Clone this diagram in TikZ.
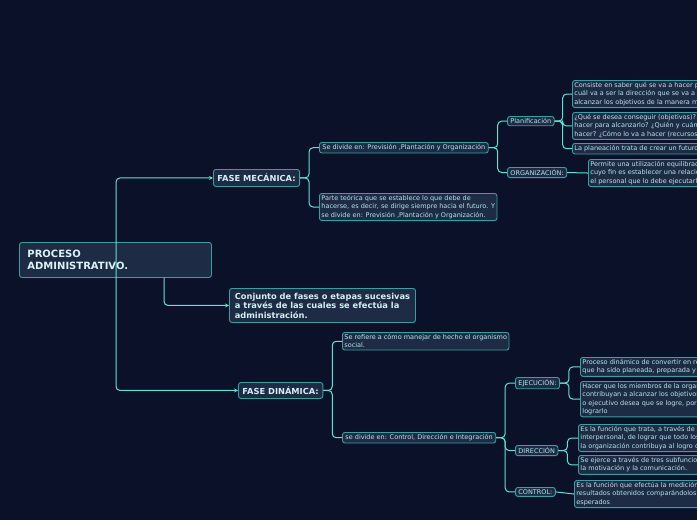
\documentclass[tikz,border=0pt]{standalone}
\usepackage{fontspec}
\setmainfont{DejaVu Sans}
\usetikzlibrary{arrows.meta}
\definecolor{bg}{HTML}{0B1128}
\definecolor{nfill}{HTML}{1E2B44}
\definecolor{nline}{HTML}{3A9FA0}
\definecolor{cline}{HTML}{5FE3D2}
\definecolor{ntext}{HTML}{B5E6EE}
\tikzset{
 box/.style={draw=nline,line width=0.9pt,fill=nfill,rounded corners=2.5pt,text=ntext,anchor=north west,inner sep=2pt,align=left},
 leaf/.style={box,font=\fontsize{6.5}{8.3}\selectfont},
 lab/.style={box,font=\fontsize{6.5}{8}\selectfont,inner xsep=3pt},
 mid/.style={box,font=\bfseries\fontsize{8.3}{9.5}\selectfont,text=ntext!60!white,inner xsep=4pt},
 conn/.style={draw=cline,line width=1pt,rounded corners=4pt},
 arr/.style={conn,-{Stealth[length=4pt,width=4pt]}}
}
\begin{document}
\begin{tikzpicture}[x=1pt,y=-1pt]
\fill[bg] (0,0) rectangle (697,520);
\useasboundingbox (0,0) rectangle (697,520);
\clip (0,0) rectangle (697,520);
\node[box,font=\bfseries\fontsize{10}{11.5}\selectfont,text=ntext!50!white,text width=176pt,minimum height=35pt,inner xsep=8pt] (root) at (19,242) {PROCESO\\ADMINISTRATIVO.};
\node[mid,minimum height=17pt] (mec) at (213,169) {FASE MECÁNICA:};
\node[mid,minimum width=186pt,minimum height=34pt] (conj) at (229,288) {Conjunto de fases o etapas sucesivas\\a través de las cuales se efectúa la\\administración.};
\node[mid,minimum height=16pt] (din) at (238,382) {FASE DINÁMICA:};
\node[lab] (div1) at (319,142) {Se divide en: Previsión ,Plantación y Organización};
\node[leaf] (parte) at (319,193) {Parte teórica que se establece lo que debe de\\hacerse, es decir, se dirige siempre hacia el futuro. Y\\se divide en: Previsión ,Plantación y Organización.};
\node[lab] (plan) at (507,116) {Planificación};
\node[lab] (org) at (507,167) {ORGANIZACIÓN:};
\node[leaf] (p1) at (572,80) {Consiste en saber qué se va a hacer por adelantado,\\cuál va a ser la dirección que se va a tomar para\\alcanzar los objetivos de la manera más eficiente};
\node[leaf] (p2) at (572,112) {¿Qué se desea conseguir (objetivos)? ¿Qué se va a\\hacer para alcanzarlo? ¿Quién y cuándo lo va a\\hacer? ¿Cómo lo va a hacer (recursos)?};
\node[leaf] (p3) at (572,143) {La planeación trata de crear un futuro deseado};
\node[leaf] (o1) at (588,159) {Permite una utilización equilibrada de los recursos\\cuyo fin es establecer una relación entre el trabajo y\\el personal que lo debe ejecutarlo};
\node[leaf] (ref) at (342,332) {Se refiere a cómo manejar de hecho el organismo\\social.};
\node[lab] (div2) at (342,432) {se divide en: Control, Dirección e Integración};
\node[lab] (eje) at (515,377) {EJECUCIÓN:};
\node[lab] (dir) at (515,445) {DIRECCIÓN};
\node[lab] (con) at (515,487) {CONTROL:};
\node[leaf] (e1) at (580,357) {Proceso dinámico de convertir en realidad la acción\\que ha sido planeada, preparada y organizada};
\node[leaf] (e2) at (580,381) {Hacer que los miembros de la organización\\contribuyan a alcanzar los objetivos que el gerente\\o ejecutivo desea que se logre, por lo que debe\\lograrlo};
\node[leaf] (d1) at (578,424) {Es la función que trata, a través de la influencia\\interpersonal, de lograr que todo los miembros de\\la organización contribuya al logro de objetivos};
\node[leaf] (d2) at (578,455) {Se ejerce a través de tres subfunciones: el liderazgo,\\la motivación y la comunicación.};
\node[leaf] (c1) at (574,480) {Es la función que efectúa la medición de los\\resultados obtenidos comparándolos con los\\esperados};
% connectors
\draw[arr] ([xshift=97pt]root.south west) |- (mec.west);
\draw[arr] ([xshift=97pt]root.south west) |- (din.west);
\draw[arr] ([xshift=145pt]root.south west) |- (conj.west);
\foreach \c in {div1,parte} \draw[conn] (mec.east) -- ++(9,0) |- (\c.west);
\foreach \c in {plan,org} \draw[conn] (div1.east) -- ++(9,0) |- (\c.west);
\foreach \c in {p1,p2,p3} \draw[conn] (plan.east) -- ++(8,0) |- (\c.west);
\draw[conn] (org.east) -- (o1.west);
\foreach \c in {ref,div2} \draw[conn] (din.east) -- ++(9,0) |- (\c.west);
\foreach \c in {eje,dir,con} \draw[conn] (div2.east) -- ++(9,0) |- (\c.west);
\foreach \c in {e1,e2} \draw[conn] (eje.east) -- ++(9,0) |- (\c.west);
\foreach \c in {d1,d2} \draw[conn] (dir.east) -- ++(9,0) |- (\c.west);
\draw[conn] (con.east) -- (c1.west);
\end{tikzpicture}
\end{document}
